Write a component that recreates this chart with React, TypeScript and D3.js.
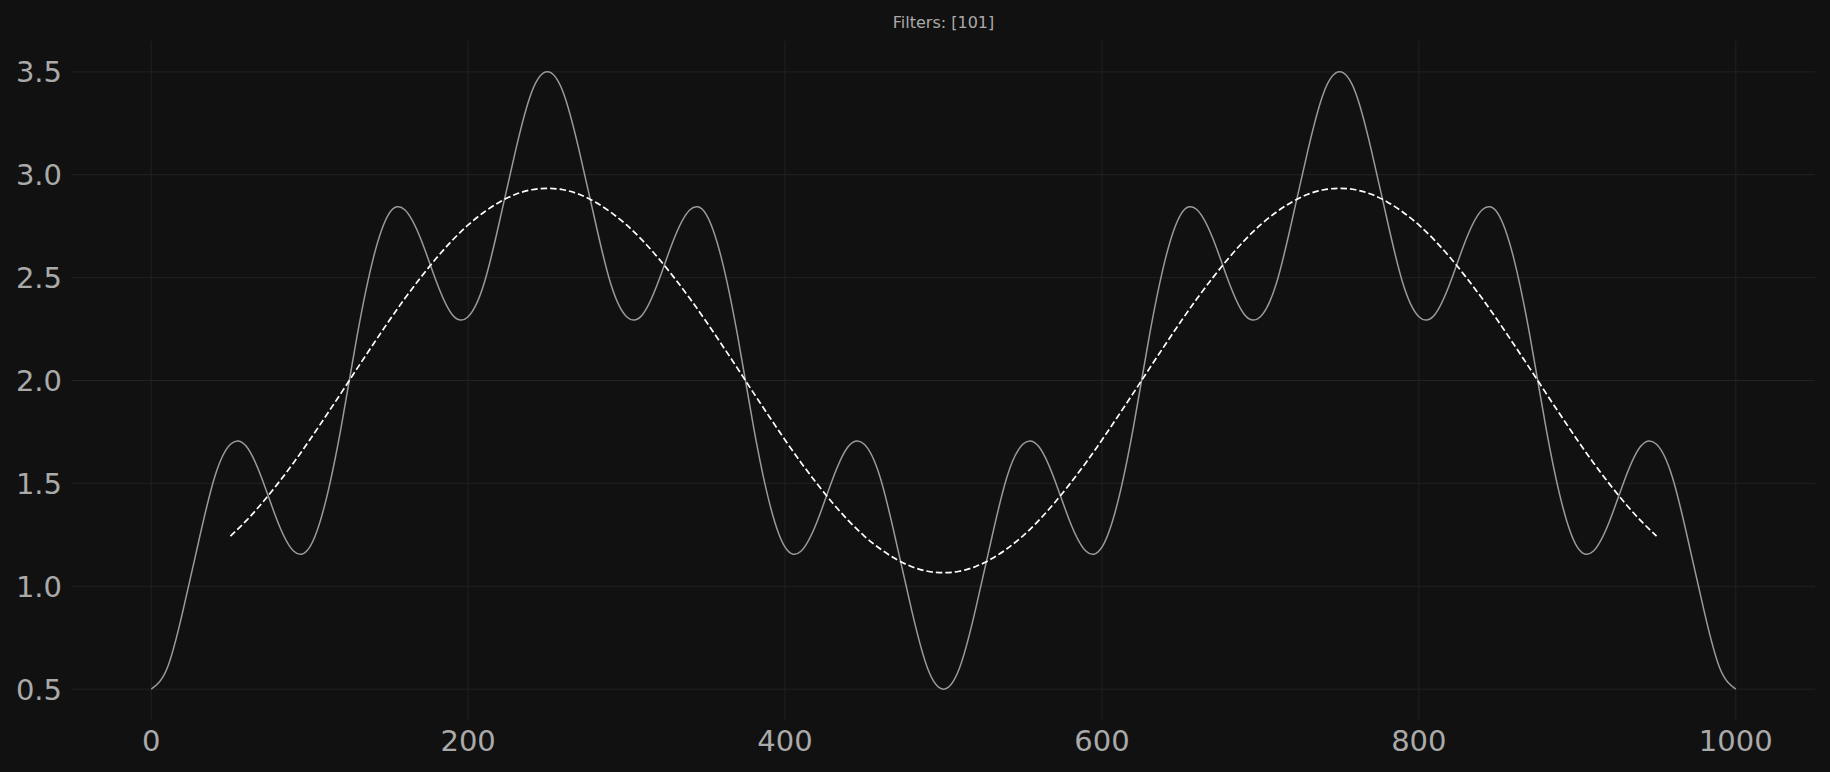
import { useMemo } from 'react'
import * as d3 from 'd3'

const signalX = d3.range(0, 1001, 10)
const signalY = [
  0.5, 0.6, 0.88, 1.22, 1.53, 1.69, 1.68, 1.52, 1.31, 1.17,
  1.19, 1.41, 1.78, 2.22, 2.59, 2.81, 2.83, 2.69, 2.48, 2.32,
  2.31, 2.47, 2.78, 3.12, 3.4, 3.5, 3.4, 3.12, 2.78, 2.47,
  2.31, 2.32, 2.48, 2.69, 2.83, 2.81, 2.59, 2.22, 1.78, 1.41,
  1.19, 1.17, 1.31, 1.52, 1.68, 1.69, 1.53, 1.22, 0.88, 0.6,
  0.5, 0.6, 0.88, 1.22, 1.53, 1.69, 1.68, 1.52, 1.31, 1.17,
  1.19, 1.41, 1.78, 2.22, 2.59, 2.81, 2.83, 2.69, 2.48, 2.32,
  2.31, 2.47, 2.78, 3.12, 3.4, 3.5, 3.4, 3.12, 2.78, 2.47,
  2.31, 2.32, 2.48, 2.69, 2.83, 2.81, 2.59, 2.22, 1.78, 1.41,
  1.19, 1.17, 1.31, 1.52, 1.68, 1.69, 1.53, 1.22, 0.88, 0.6,
  0.5,
]

// filtered (window 101) signal, from 50 to 950
const filteredX = d3.range(50, 951, 10)
const filteredY = [
  1.244, 1.319, 1.405, 1.5, 1.602, 1.711, 1.825, 1.941, 2.059, 2.175,
  2.289, 2.398, 2.5, 2.595, 2.681, 2.756, 2.818, 2.868, 2.905, 2.927,
  2.934, 2.927, 2.905, 2.868, 2.818, 2.756, 2.681, 2.595, 2.5, 2.398,
  2.289, 2.175, 2.059, 1.941, 1.825, 1.711, 1.602, 1.5, 1.405, 1.319,
  1.244, 1.182, 1.132, 1.095, 1.073, 1.066, 1.073, 1.095, 1.132, 1.182,
  1.244, 1.319, 1.405, 1.5, 1.602, 1.711, 1.825, 1.941, 2.059, 2.175,
  2.289, 2.398, 2.5, 2.595, 2.681, 2.756, 2.818, 2.868, 2.905, 2.927,
  2.934, 2.927, 2.905, 2.868, 2.818, 2.756, 2.681, 2.595, 2.5, 2.398,
  2.289, 2.175, 2.059, 1.941, 1.825, 1.711, 1.602, 1.5, 1.405, 1.319,
  1.244,
]

const xTicks = [0, 200, 400, 600, 800, 1000]
const yTicks = [0.5, 1.0, 1.5, 2.0, 2.5, 3.0, 3.5]
const title = 'Filters: [101]'

export default function App() {
  const width = 1830
  const height = 772
  const plot = { left: 72, right: 1815, top: 41, bottom: 720 }
  const font = 'DejaVu Sans, sans-serif'

  const x = d3.scaleLinear().domain([-50, 1050]).range([plot.left, plot.right])
  const y = d3.scaleLinear().domain([0.35, 3.65]).range([plot.bottom, plot.top])

  const line = useMemo(
    () =>
      d3
        .line<[number, number]>()
        .x(d => x(d[0]))
        .y(d => y(d[1]))
        .curve(d3.curveNatural),
    []
  )

  const signal = line(signalX.map((v, i) => [v, signalY[i]]))
  const filtered = line(filteredX.map((v, i) => [v, filteredY[i]]))

  return (
    <svg
      width={width}
      height={height}
      style={{ position: 'absolute', left: 0, top: 0, background: '#111111' }}
    >
      <rect width={width} height={height} fill="#111111" />

      {/* grid */}
      {xTicks.map(t => (
        <line key={'gx' + t} x1={x(t)} x2={x(t)} y1={plot.top} y2={plot.bottom} stroke="#222222" strokeWidth={1} />
      ))}
      {yTicks.map(t => (
        <line key={'gy' + t} x1={plot.left} x2={plot.right} y1={y(t)} y2={y(t)} stroke="#222222" strokeWidth={1} />
      ))}

      <path d={signal ?? ''} fill="none" stroke="#9a9a9a" strokeWidth={1.5} />
      <path d={filtered ?? ''} fill="none" stroke="#ffffff" strokeWidth={1.7} strokeDasharray="6.5 3" />

      {/* tick labels */}
      {xTicks.map(t => (
        <text key={'tx' + t} x={x(t)} y={751} textAnchor="middle" fill="#aaaaaa" fontSize={29} fontFamily={font}>
          {t}
        </text>
      ))}
      {yTicks.map(t => (
        <text key={'ty' + t} x={62} y={y(t)} dy="0.36em" textAnchor="end" fill="#aaaaaa" fontSize={29} fontFamily={font}>
          {t.toFixed(1)}
        </text>
      ))}

      <text x={(plot.left + plot.right) / 2} y={28} textAnchor="middle" fill="#aaaaaa" fontSize={16} fontFamily={font}>
        {title}
      </text>
    </svg>
  )
}
